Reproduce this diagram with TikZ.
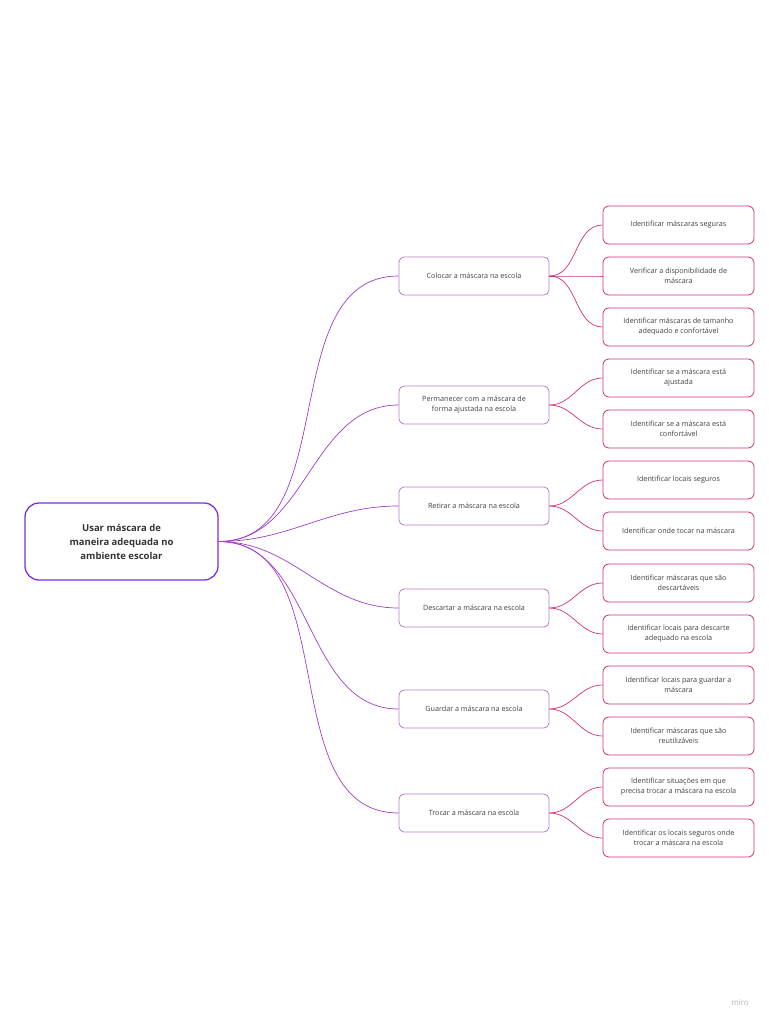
\documentclass[tikz,border=0pt]{standalone}
\usepackage{fontspec}
\setmainfont{Open Sans}
\begin{document}
\begin{tikzpicture}[x=1pt,y=-1pt,
root/.style={draw=rootc,line width=1.3pt,rounded corners=14pt,minimum width=193pt,minimum height=77pt,align=center,font=\fontsize{9.5}{14}\selectfont\bfseries,text=black!80},
mid/.style={draw=midc,line width=0.8pt,rounded corners=5pt,minimum width=150pt,minimum height=38pt,align=center,font=\fontsize{7.2}{10}\selectfont,text=black!75},
leaf/.style={draw=leafc,line width=0.8pt,rounded corners=6pt,minimum width=151pt,minimum height=38pt,align=center,font=\fontsize{7.2}{10}\selectfont,text=black!75},
e1/.style={draw=e1c,line width=0.7pt,out=0,in=180},
e2/.style={draw=leafc,line width=0.7pt,out=0,in=180}]
\definecolor{rootc}{HTML}{7A30E0}
\definecolor{midc}{HTML}{B47CD0}
\definecolor{e1c}{HTML}{A23CC8}
\definecolor{leafc}{HTML}{D0307A}
\useasboundingbox (0,0) rectangle (768,1024);
\node[root] (r) at (121.5,541.5) {Usar máscara de\\maneira adequada no\\ambiente escolar};
\node[mid] (m1) at (474,276) {Colocar a máscara na escola};
\node[mid] (m2) at (474,405) {Permanecer com a máscara de\\forma ajustada na escola};
\node[mid] (m3) at (474,506) {Retirar a máscara na escola};
\node[mid] (m4) at (474,608) {Descartar a máscara na escola};
\node[mid] (m5) at (474,709) {Guardar a máscara na escola};
\node[mid] (m6) at (474,813) {Trocar a máscara na escola};
\node[leaf] (l1) at (678.5,225) {Identificar máscaras seguras};
\node[leaf] (l2) at (678.5,276) {Verificar a disponibilidade de\\máscara};
\node[leaf] (l3) at (678.5,327) {Identificar máscaras de tamanho\\adequado e confortável};
\node[leaf] (l4) at (678.5,378) {Identificar se a máscara está\\ajustada};
\node[leaf] (l5) at (678.5,429) {Identificar se a máscara está\\confortável};
\node[leaf] (l6) at (678.5,480) {Identificar locais seguros};
\node[leaf] (l7) at (678.5,531) {Identificar onde tocar na máscara};
\node[leaf] (l8) at (678.5,583) {Identificar máscaras que são\\descartáveis};
\node[leaf] (l9) at (678.5,634) {Identificar locais para descarte\\adequado na escola};
\node[leaf] (l10) at (678.5,685) {Identificar locais para guardar a\\máscara};
\node[leaf] (l11) at (678.5,736) {Identificar máscaras que são\\reutilizáveis};
\node[leaf] (l12) at (678.5,787) {Identificar situações em que\\precisa trocar a máscara na escola};
\node[leaf] (l13) at (678.5,838) {Identificar os locais seguros onde\\trocar a máscara na escola};
\foreach \m in {m1,m2,m3,m4,m5,m6} \path[e1] (r.east) to (\m.west);
\foreach \m/\l in {m1/l1,m1/l2,m1/l3,m2/l4,m2/l5,m3/l6,m3/l7,m4/l8,m4/l9,m5/l10,m5/l11,m6/l12,m6/l13} \path[e2] (\m.east) to (\l.west);
\node[text=black!30,font=\fontsize{8}{9}\selectfont] (w) at (740,1003) {miro};
\end{tikzpicture}
\end{document}
